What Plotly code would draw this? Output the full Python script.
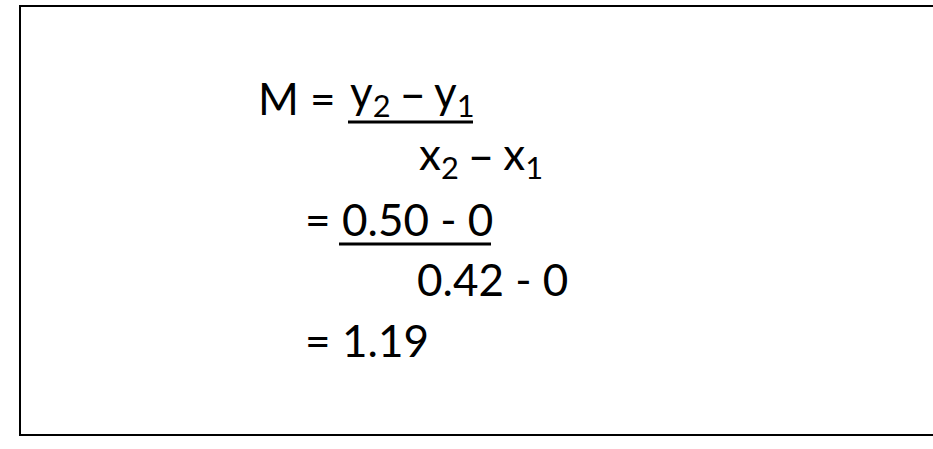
import plotly.graph_objects as go

DASH = "<span style='font-family:Open Sans'>–</span>"
# Text content of the slope calculation
line_labels = ["M =", f"y<sub>2</sub> {DASH} y<sub>1</sub>", f"x<sub>2</sub> {DASH} x<sub>1</sub>",
               "=", "0.50 - 0", "0.42 - 0", "=", "1.19"]
# left x (px) and baseline y (px) in the reference picture
line_x = [256, 348, 417, 303, 340, 415, 303, 340]
line_base = [116, 116, 178, 237, 237, 297, 358, 358]

FONT = "Lato"
SIZE = 44
DESC = 0.213 * SIZE

fig = go.Figure()
fig.update_layout(
    width=933, height=449,
    margin=dict(l=0, r=0, t=0, b=0),
    paper_bgcolor="white", plot_bgcolor="white",
    xaxis=dict(range=[0, 933], visible=False, fixedrange=True),
    yaxis=dict(range=[449, 0], visible=False, fixedrange=True),
    showlegend=False,
)

for txt, x, b in zip(line_labels, line_x, line_base):
    fig.add_annotation(x=x, y=b + DESC + 1, text=txt, showarrow=False,
                       xanchor="left", yanchor="bottom", xref="x", yref="y",
                       font=dict(family=FONT, size=SIZE, color="black"))

# underlines
fig.add_shape(type="line", x0=348, x1=473, y0=122, y1=122, line=dict(color="black", width=3))
fig.add_shape(type="line", x0=339, x1=491, y0=244, y1=244, line=dict(color="black", width=3))
# border box
fig.add_shape(type="rect", x0=20, x1=960, y0=6, y1=435, line=dict(color="black", width=2))

fig.write_html("out.html", config={"displayModeBar": False},
               post_script="document.body.style.margin='0';document.body.style.overflow='hidden';")
